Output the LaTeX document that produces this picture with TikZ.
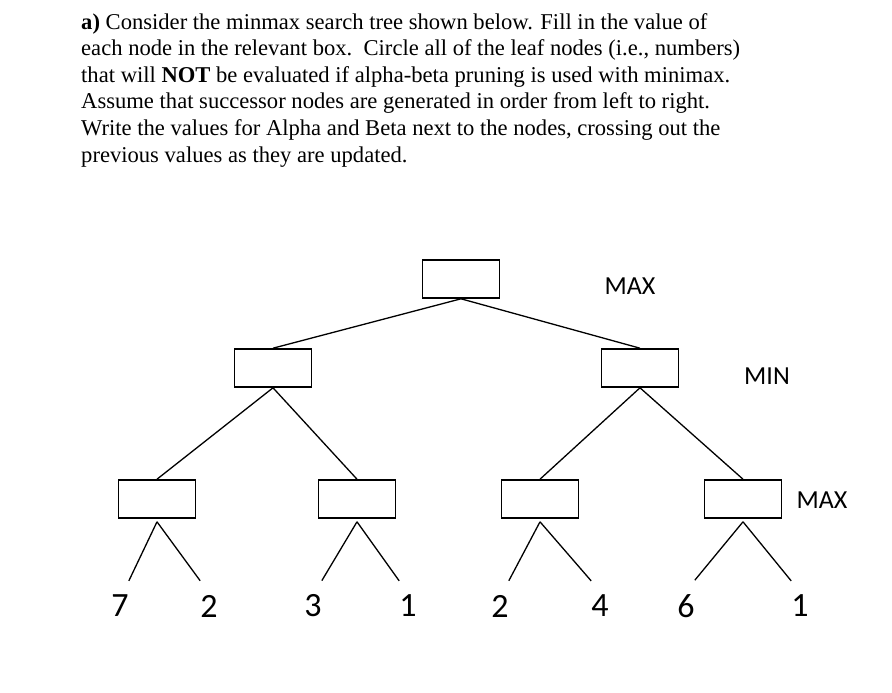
\documentclass[tikz,border=0pt]{standalone}
\usepackage{fontspec}
\setmainfont{Liberation Serif}
\newfontfamily\labelfont{Carlito}
\usetikzlibrary{positioning}
\tikzset{
  valbox/.style={draw, line width=1.6pt, minimum width=77pt, minimum height=38pt, inner sep=0pt},
  leaf/.style={font=\labelfont\fontsize{34}{34}\selectfont, inner sep=0pt},
  level/.style={font=\labelfont\fontsize{26}{26}\selectfont, inner sep=0pt},
  branch/.style={line width=1.3pt}
}
\begin{document}
\begin{tikzpicture}[x=1pt, y=-1pt]
  \useasboundingbox (0,0) rectangle (892,693);
  \node[anchor=north west, align=left, inner sep=0pt,
        font=\fontsize{22.6}{26.6}\selectfont] (task) at (81,13)
    {\textbf{a)} Consider the minmax search tree shown below. Fill in the value of\\
     each node in the relevant box.\ \ Circle all of the leaf nodes (i.e., numbers)\\
     that will \textbf{NOT} be evaluated if alpha-beta pruning is used with minimax.\\
     Assume that successor nodes are generated in order from left to right.\\
     Write the values for Alpha and Beta next to the nodes, crossing out the\\
     previous values as they are updated.};

  % tree
  \node[valbox] (root) at (461,279) {};
  \node[valbox] (L) at (273,368) {};
  \node[valbox] (R) at (640,368) {};
  \node[valbox] (LL) at (157,499) {};
  \node[valbox] (LR) at (357,499) {};
  \node[valbox] (RL) at (540,499) {};
  \node[valbox] (RR) at (743,499) {};

  \node[level] (max1) at (630,286) {MAX};
  \node[level] (min1) at (767,376) {MIN};
  \node[level] (max2) at (822,500) {MAX};

  \node[leaf] (a) at (120,606) {7};
  \node[leaf] (b) at (209,606) {2};
  \node[leaf] (c) at (313,606) {3};
  \node[leaf] (d) at (408,606) {1};
  \node[leaf] (e) at (500,606) {2};
  \node[leaf] (f) at (600,606) {4};
  \node[leaf] (g) at (686,606) {6};
  \node[leaf] (h) at (800,606) {1};

  \draw[branch] (root.south) -- (L.north);
  \draw[branch] (root.south) -- (R.north);
  \draw[branch] (L.south) -- (LL.north);
  \draw[branch] (L.south) -- (LR.north);
  \draw[branch] (R.south) -- (RL.north);
  \draw[branch] (R.south) -- (RR.north);

  \foreach \p/\x/\y in {LL/a/b, LR/c/d, RL/e/f, RR/g/h} {
    \draw[branch] ([yshift=-3pt]\p.south) -- ([yshift=14pt]\x.north east);
    \draw[branch] ([yshift=-3pt]\p.south) -- ([yshift=14pt]\y.north west);
  }
\end{tikzpicture}
\end{document}
